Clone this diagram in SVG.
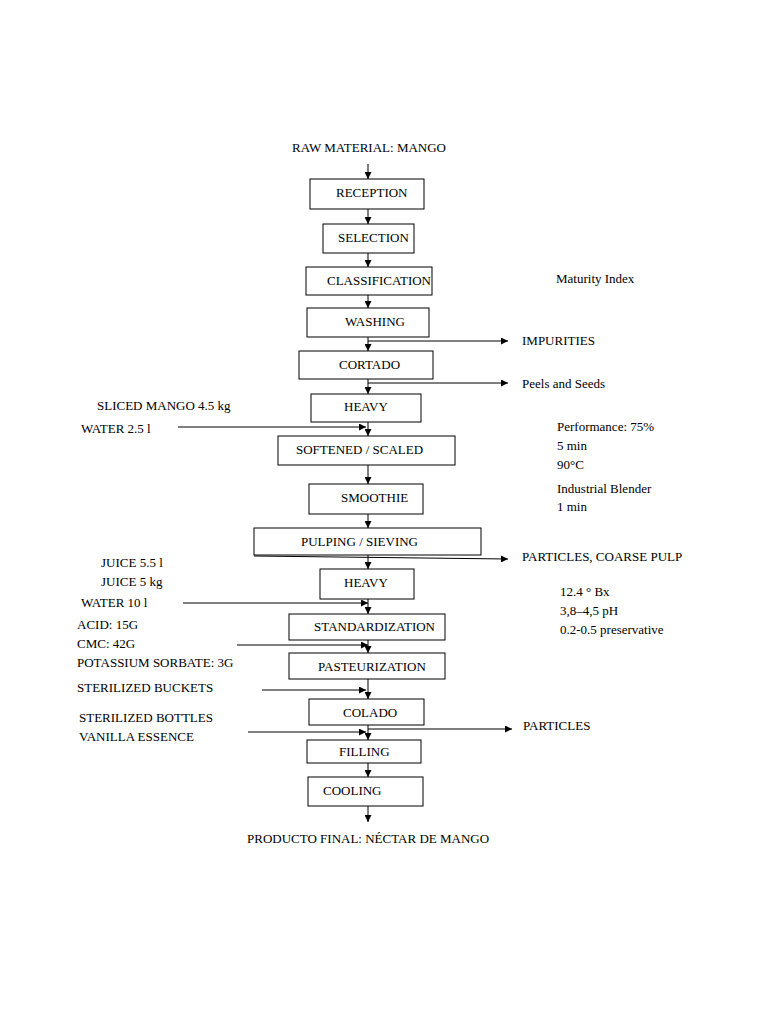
<svg xmlns="http://www.w3.org/2000/svg" width="768" height="1024" viewBox="0 0 768 1024">
<style>
text{font-family:"Liberation Serif","Times New Roman",serif;font-size:13px;fill:#000}
.b rect{fill:#fff;stroke:#000;stroke-width:1}
.c line{stroke:#000;stroke-width:1;marker-end:url(#a)}
</style>
<defs><marker id="a" viewBox="0 0 10 10" refX="10" refY="5" markerWidth="7" markerHeight="7" orient="auto" markerUnits="userSpaceOnUse"><path d="M0,0L10,5L0,10z"/></marker>
<clipPath id="cl"><rect x="0" y="740" width="300" height="11"/></clipPath></defs>
<rect width="768" height="1024" fill="#fff"/>
<g class="c">
<line x1="368" y1="164" x2="368" y2="179"/>
<line x1="368" y1="209" x2="368" y2="224"/>
<line x1="368" y1="253" x2="368" y2="267"/>
<line x1="368" y1="295" x2="368" y2="308"/>
<line x1="368" y1="337" x2="368" y2="351"/>
<line x1="368" y1="379" x2="368" y2="394"/>
<line x1="368" y1="422" x2="368" y2="436"/>
<line x1="368" y1="465" x2="368" y2="484"/>
<line x1="368" y1="514" x2="368" y2="528"/>
<line x1="368" y1="555" x2="368" y2="569"/>
<line x1="368" y1="599" x2="368" y2="614"/>
<line x1="368" y1="640" x2="368" y2="653"/>
<line x1="368" y1="679" x2="368" y2="699"/>
<line x1="368" y1="725" x2="368" y2="740"/>
<line x1="368" y1="763" x2="368" y2="777"/>
<line x1="368" y1="806" x2="368" y2="822"/>
<line x1="368" y1="341" x2="508" y2="341"/>
<line x1="368" y1="383" x2="508" y2="383"/>
<line x1="254" y1="556" x2="508" y2="559"/>
<line x1="368" y1="729" x2="512" y2="729"/>
<line x1="178" y1="427" x2="366" y2="427"/>
<line x1="183" y1="603" x2="368" y2="603"/>
<line x1="237" y1="645" x2="368" y2="645"/>
<line x1="262" y1="690" x2="366" y2="690"/>
<line x1="248" y1="732" x2="366" y2="732"/>
</g>
<g class="b">
<g id="reception"><rect x="310" y="179" width="114" height="30"/><text x="336" y="197">RECEPTION</text></g>
<g id="selection"><rect x="323" y="224" width="91" height="29"/><text x="338" y="242">SELECTION</text></g>
<g id="classification"><rect x="306" y="267" width="126" height="28"/><text x="327" y="285">CLASSIFICATION</text></g>
<g id="washing"><rect x="307" y="308" width="122" height="29"/><text x="345" y="326">WASHING</text></g>
<g id="cortado"><rect x="299" y="351" width="134" height="28"/><text x="339" y="369">CORTADO</text></g>
<g id="heavy1"><rect x="311" y="394" width="110" height="28"/><text x="344" y="411">HEAVY</text></g>
<g id="softened"><rect x="278" y="436" width="177" height="29"/><text x="296" y="454">SOFTENED / SCALED</text></g>
<g id="smoothie"><rect x="309" y="484" width="114" height="30"/><text x="341" y="502">SMOOTHIE</text></g>
<g id="pulping"><rect x="254" y="528" width="227" height="27"/><text x="301" y="546">PULPING / SIEVING</text></g>
<g id="heavy2"><rect x="320" y="569" width="94" height="30"/><text x="344" y="587">HEAVY</text></g>
<g id="standardization"><rect x="289" y="614" width="156" height="26"/><text x="314" y="631">STANDARDIZATION</text></g>
<g id="pasteurization"><rect x="289" y="653" width="156" height="26"/><text x="318" y="671">PASTEURIZATION</text></g>
<g id="colado"><rect x="309" y="699" width="115" height="26"/><text x="343" y="717">COLADO</text></g>
<g id="filling"><rect x="307" y="740" width="114" height="23"/><text x="339" y="756">FILLING</text></g>
<g id="cooling"><rect x="308" y="777" width="115" height="29"/><text x="323" y="795">COOLING</text></g>
</g>
<text x="292" y="152">RAW MATERIAL: MANGO</text>
<text x="247" y="843">PRODUCTO FINAL: NÉCTAR DE MANGO</text>
<text x="556" y="283">Maturity Index</text>
<text x="522" y="345">IMPURITIES</text>
<text x="522" y="388">Peels and Seeds</text>
<text x="557" y="431">Performance: 75%</text>
<text x="557" y="450">5 min</text>
<text x="557" y="469">90°C</text>
<text x="557" y="493">Industrial Blender</text>
<text x="557" y="511">1 min</text>
<text x="522" y="561">PARTICLES, COARSE PULP</text>
<text x="560" y="596">12.4 ° Bx</text>
<text x="560" y="615">3,8–4,5 pH</text>
<text x="560" y="634">0.2-0.5 preservative</text>
<text x="523" y="730">PARTICLES</text>
<text x="97" y="410">SLICED MANGO 4.5 kg</text>
<text x="81" y="433">WATER 2.5 l</text>
<text x="101" y="567">JUICE 5.5 l</text>
<text x="101" y="586">JUICE 5 kg</text>
<text x="81" y="607">WATER 10 l</text>
<text x="77" y="629">ACID: 15G</text>
<text x="77" y="648">CMC: 42G</text>
<text x="77" y="667">POTASSIUM SORBATE: 3G</text>
<text x="77" y="692">STERILIZED BUCKETS</text>
<text x="79" y="722">STERILIZED BOTTLES</text>
<text x="79" y="741">VANILLA ESSENCE</text>
<text x="79" y="760" clip-path="url(#cl)">STELLAS ESTERILIZADAS</text>
</svg>
